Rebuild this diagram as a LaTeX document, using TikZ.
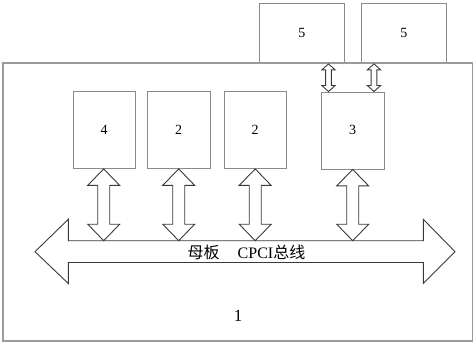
\documentclass[tikz,border=0pt]{standalone}
\usepackage{fontspec}
\setmainfont{Liberation Serif}
\newfontfamily\cjk{Noto Sans CJK SC}
\usetikzlibrary{calc}
\definecolor{boxgray}{HTML}{8A8A8A}
\definecolor{outergray}{HTML}{9A9A9A}
\definecolor{arrowgray}{HTML}{3A3A3A}
\tikzset{
  unitbox/.style={draw=boxgray, line width=0.9pt, inner sep=0pt, font=\fontsize{14}{14}\selectfont},
  outerbox/.style={draw=outergray, line width=1.6pt},
  arrowline/.style={draw=arrowgray, line width=0.9pt, fill=white, line join=miter},
}
% block double arrow between two points: #1 top, #2 bottom, #3 shaft half width, #4 head half width, #5 head length
\newcommand\vblockarrow[5]{%
  \draw[arrowline] let \p1=(#1), \p2=(#2) in
    (\x1,\y1) -- (\x1+#4,\y1-#5) -- (\x1+#3,\y1-#5) -- (\x1+#3,\y2+#5)
    -- (\x1+#4,\y2+#5) -- (\x1,\y2) -- (\x1-#4,\y2+#5) -- (\x1-#3,\y2+#5)
    -- (\x1-#3,\y1-#5) -- (\x1-#4,\y1-#5) -- cycle;}
\begin{document}
\begin{tikzpicture}[x=1pt,y=-1pt]
\useasboundingbox (0,0) rectangle (474,343);
% outer board
\draw[outerbox] (3,63) rectangle (472.5,341);
\node[font=\fontsize{17}{17}\selectfont] (lab1) at (238,315.5) {1};
% top boxes 5
\node[unitbox, minimum width=85pt, minimum height=60pt, anchor=north west] (b5a) at (259,3) {5};
\node[unitbox, minimum width=85pt, minimum height=60pt, anchor=north west] (b5b) at (361,3) {5};
\draw[outerbox] (3,63) -- (472.5,63);
% row boxes
\node[unitbox, minimum width=62.5pt, minimum height=77pt, anchor=north west] (b4) at (72.5,91) {};
\node[unitbox, minimum width=62.5pt, minimum height=77pt, anchor=north west] (b2a) at (147,91) {};
\node[unitbox, minimum width=62.5pt, minimum height=77pt, anchor=north west] (b2b) at (223.5,91) {};
\node[unitbox, minimum width=62.5pt, minimum height=77pt, anchor=north west] (b3) at (321,91.5) {};
\node[font=\fontsize{14}{14}\selectfont] at ($(b4.north)+(0,38.5)$) {4};
\node[font=\fontsize{14}{14}\selectfont] at ($(b2a.north)+(0,38.5)$) {2};
\node[font=\fontsize{14}{14}\selectfont] at ($(b2b.north)+(0,38.5)$) {2};
\node[font=\fontsize{14}{14}\selectfont] at ($(b3.north)+(0,38.5)$) {3};
% bus
\coordinate (busL) at (35,251.7);
\coordinate (busR) at (455,251.7);
\draw[arrowline] (busL) -- (68.3,219.3) -- (68.3,240.7) -- (423.3,240.7) -- (423.3,219.3)
  -- (busR) -- (423.3,283.5) -- (423.3,262.5) -- (68.3,262.5) -- (68.3,283.5) -- cycle;
\coordinate (bustop) at (0,240.7);
\node[font=\fontsize{16}{16}\selectfont, inner sep=0pt] (buslabel) at (246.5,252) {{\cjk 母板}\hspace{18pt}CPCI{\cjk 总线}};
% vertical arrows to bus
\coordinate (a4t) at ($(b4.south)+(-0.5,0)$);
\vblockarrow{a4t}{a4t |- bustop}{6pt}{16pt}{16.5pt}
\vblockarrow{b2a.south}{b2a.south |- bustop}{6pt}{16pt}{16.5pt}
\vblockarrow{b2b.south}{b2b.south |- bustop}{6pt}{16pt}{16.5pt}
\vblockarrow{b3.south}{b3.south |- bustop}{6pt}{16pt}{16.5pt}
% small arrows between 5 and 3
\coordinate (s1) at ($(b3.north west)+(7.5,0)$);
\coordinate (s2) at ($(b3.north west)+(53,0)$);
\vblockarrow{s1 |- b5a.south}{s1}{2.9pt}{6.7pt}{6pt}
\vblockarrow{s2 |- b5b.south}{s2}{2.9pt}{6.7pt}{6pt}
\end{tikzpicture}
\end{document}
